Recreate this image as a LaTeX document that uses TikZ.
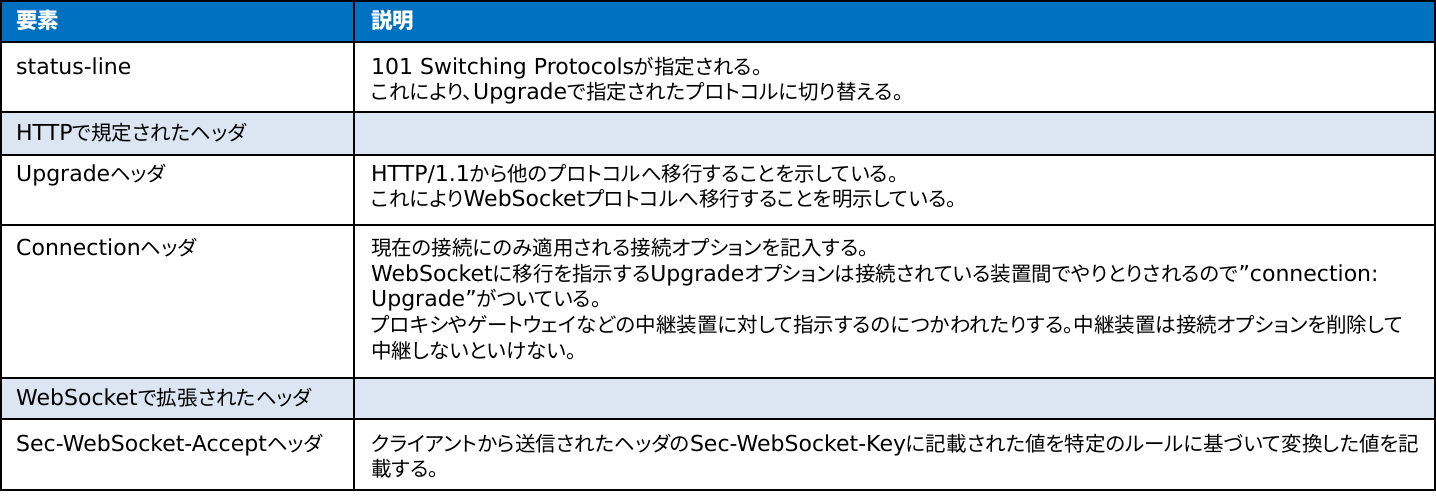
\documentclass[tikz,border=0pt]{standalone}
\usepackage{fontspec}
\setmainfont{Noto Sans CJK JP}[RawFeature=+palt]
\newfontfamily\latfont{DejaVu Sans}
\newcommand\E[1]{{\fontsize{22}{25}\latfont #1}}
\definecolor{hdrblue}{HTML}{0070C0}
\definecolor{rowblue}{HTML}{DCE6F2}
\begin{document}
\begin{tikzpicture}[x=1pt,y=-1pt,
  cell/.style={anchor=base west,inner sep=0pt,font=\fontsize{20.5}{25}\selectfont},
  hcell/.style={anchor=base west,inner sep=0pt,text=white,font=\fontsize{21.5}{25}\selectfont\bfseries},
  grid/.style={line width=1.6pt,black}]
\useasboundingbox (0,0) rectangle (1436,497);
% fills
\fill[hdrblue] (1,1) rectangle (1435,42);
\fill[white] (1,42) rectangle (1435,112);
\fill[rowblue] (1,112) rectangle (1435,155);
\fill[white] (1,155) rectangle (1435,378);
\fill[rowblue] (1,378) rectangle (1435,419);
\fill[white] (1,419) rectangle (1435,490);
% grid
\draw[grid] (1,1) rectangle (1435,490);
\foreach \yy in {42,112,155,225,378,419} \draw[grid] (1,\yy) -- (1435,\yy);
\draw[grid] (354,1) -- (354,490);
% header
\node[hcell] (h1) at (16,29) {要素};
\node[hcell] (h2) at (371,29) {説明};
% status-line
\node[cell] (a1) at (16,75) {\E{status-line}};
\node[cell] (b1a) at (371,75) {\E{101 Switching Protocols}が指定される。};
\node[cell] (b1b) at (371,99.5) {これにより、\E{Upgrade}で指定されたプロトコルに切り替える。};
% HTTP
\node[cell] (a2) at (16,141) {\E{HTTP}で規定されたヘッダ};
% Upgrade
\node[cell] (a3) at (16,182) {\E{Upgrade}ヘッダ};
\node[cell] (b3a) at (371,182) {\E{HTTP/1.1}から他のプロトコルへ移行することを示している。};
\node[cell] (b3b) at (371,206.5) {これにより\E{WebSocket}プロトコルへ移行することを明示している。};
% Connection
\node[cell] (a4) at (16,256) {\E{Connection}ヘッダ};
\node[cell] (b4a) at (371,256) {現在の接続にのみ適用される接続オプションを記入する。};
\node[cell] (b4b) at (371,281.5) {\E{WebSocket}に移行を指示する\E{Upgrade}オプションは接続されている装置間でやりとりされるので\E{”connection:}};
\node[cell] (b4c) at (371,307) {\E{Upgrade”}がついている。};
\node[cell] (b4d) at (371,332.5) {プロキシやゲートウェイなどの中継装置に対して指示するのにつかわれたりする。中継装置は接続オプションを削除して};
\node[cell] (b4e) at (371,358) {中継しないといけない。};
% WebSocket
\node[cell] (a5) at (16,405) {\E{WebSocket}で拡張されたヘッダ};
% Sec-WebSocket-Accept
\node[cell] (a6) at (16,451) {\E{Sec-WebSocket-Accept}ヘッダ};
\node[cell] (b6a) at (371,451) {クライアントから送信されたヘッダの\E{Sec-WebSocket-Key}に記載された値を特定のルールに基づいて変換した値を記};
\node[cell] (b6b) at (371,476) {載する。};
\end{tikzpicture}
\end{document}
